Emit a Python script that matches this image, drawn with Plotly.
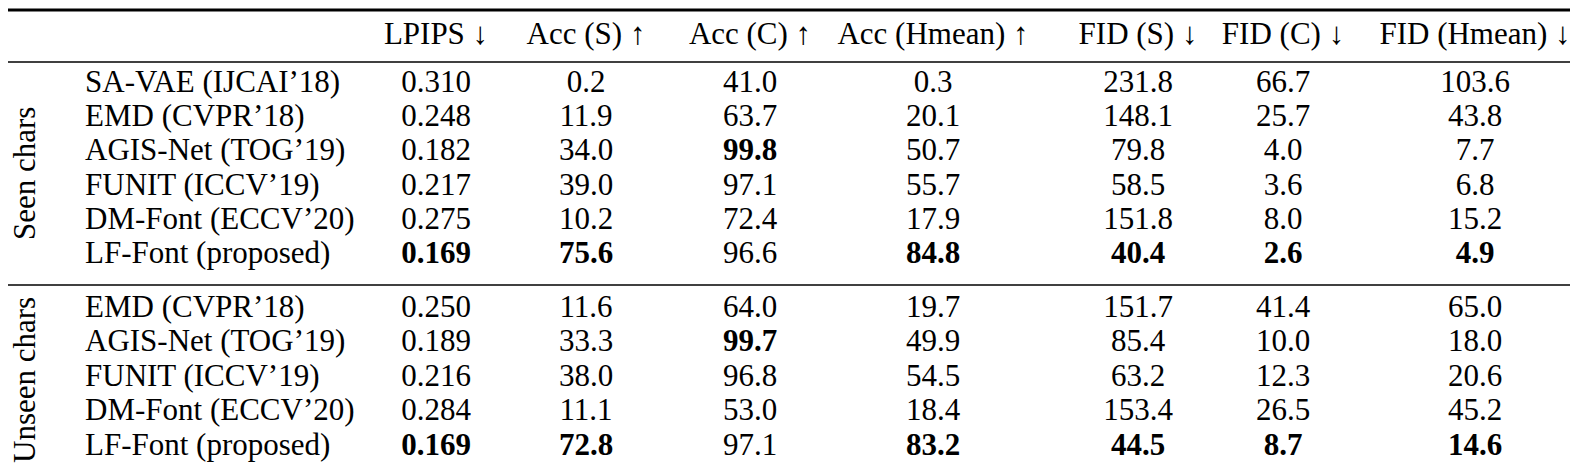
import plotly.graph_objects as go

headers = ["LPIPS ↓", "Acc (S) ↑", "Acc (C) ↑", "Acc (Hmean) ↑", "FID (S) ↓", "FID (C) ↓", "FID (Hmean) ↓"]
seen_methods = ["SA-VAE (IJCAI’18)", "EMD (CVPR’18)", "AGIS-Net (TOG’19)", "FUNIT (ICCV’19)", "DM-Font (ECCV’20)", "LF-Font (proposed)"]
seen_values = [
    ["0.310", "0.2", "41.0", "0.3", "231.8", "66.7", "103.6"],
    ["0.248", "11.9", "63.7", "20.1", "148.1", "25.7", "43.8"],
    ["0.182", "34.0", "99.8", "50.7", "79.8", "4.0", "7.7"],
    ["0.217", "39.0", "97.1", "55.7", "58.5", "3.6", "6.8"],
    ["0.275", "10.2", "72.4", "17.9", "151.8", "8.0", "15.2"],
    ["0.169", "75.6", "96.6", "84.8", "40.4", "2.6", "4.9"],
]
seen_bold = [(5, 0), (5, 1), (2, 2), (5, 3), (5, 4), (5, 5), (5, 6)]
unseen_methods = ["EMD (CVPR’18)", "AGIS-Net (TOG’19)", "FUNIT (ICCV’19)", "DM-Font (ECCV’20)", "LF-Font (proposed)"]
unseen_values = [
    ["0.250", "11.6", "64.0", "19.7", "151.7", "41.4", "65.0"],
    ["0.189", "33.3", "99.7", "49.9", "85.4", "10.0", "18.0"],
    ["0.216", "38.0", "96.8", "54.5", "63.2", "12.3", "20.6"],
    ["0.284", "11.1", "53.0", "18.4", "153.4", "26.5", "45.2"],
    ["0.169", "72.8", "97.1", "83.2", "44.5", "8.7", "14.6"],
]
unseen_bold = [(4, 0), (4, 1), (1, 2), (4, 3), (4, 4), (4, 5), (4, 6)]
groups = ["Seen chars", "Unseen chars"]

W, H = 1578, 474
FONT = "Liberation Serif"
FS = 31
col_x = [428, 578, 742, 925, 1130, 1275, 1467]
method_x = 77
header_y = 28
seen_y = [76 + 34.3 * i for i in range(6)]
unseen_y = [301 + 34.5 * i for i in range(5)]

fig = go.Figure()
fig.add_trace(go.Scatter(x=col_x, y=[header_y] * 7, text=headers, mode="text",
                         textposition="middle center", textfont=dict(family=FONT, size=FS, color="black")))

def add_block(methods, values, bold, ys):
    fig.add_trace(go.Scatter(x=[method_x] * len(methods), y=ys, text=methods, mode="text",
                             textposition="middle right", textfont=dict(family=FONT, size=FS, color="black")))
    xs, yy, tt = [], [], []
    for r, row in enumerate(values):
        for c, v in enumerate(row):
            xs.append(col_x[c]); yy.append(ys[r])
            tt.append(f"<b>{v}</b>" if (r, c) in bold else v)
    fig.add_trace(go.Scatter(x=xs, y=yy, text=tt, mode="text", textposition="middle center",
                             textfont=dict(family=FONT, size=FS, color="black")))

add_block(seen_methods, seen_values, seen_bold, seen_y)
add_block(unseen_methods, unseen_values, unseen_bold, unseen_y)

fig.add_annotation(x=16, y=166, text=groups[0], textangle=-90, showarrow=False,
                   font=dict(family=FONT, size=FS, color="black"), xref="x", yref="y")
fig.add_annotation(x=16, y=372, text=groups[1], textangle=-90, showarrow=False,
                   font=dict(family=FONT, size=FS, color="black"), xref="x", yref="y")

for y, w in [(2, 3), (54, 1.5), (277, 1.5), (470, 3)]:
    fig.add_shape(type="line", x0=0, x1=W, y0=y, y1=y, xref="x", yref="y",
                  line=dict(color="black", width=w))

fig.update_layout(width=W, height=H, margin=dict(l=0, r=0, t=0, b=0), showlegend=False,
                  plot_bgcolor="white", paper_bgcolor="white",
                  xaxis=dict(range=[0, W], visible=False, fixedrange=True),
                  yaxis=dict(range=[H, 0], visible=False, fixedrange=True))
fig.write_html("out.html")
